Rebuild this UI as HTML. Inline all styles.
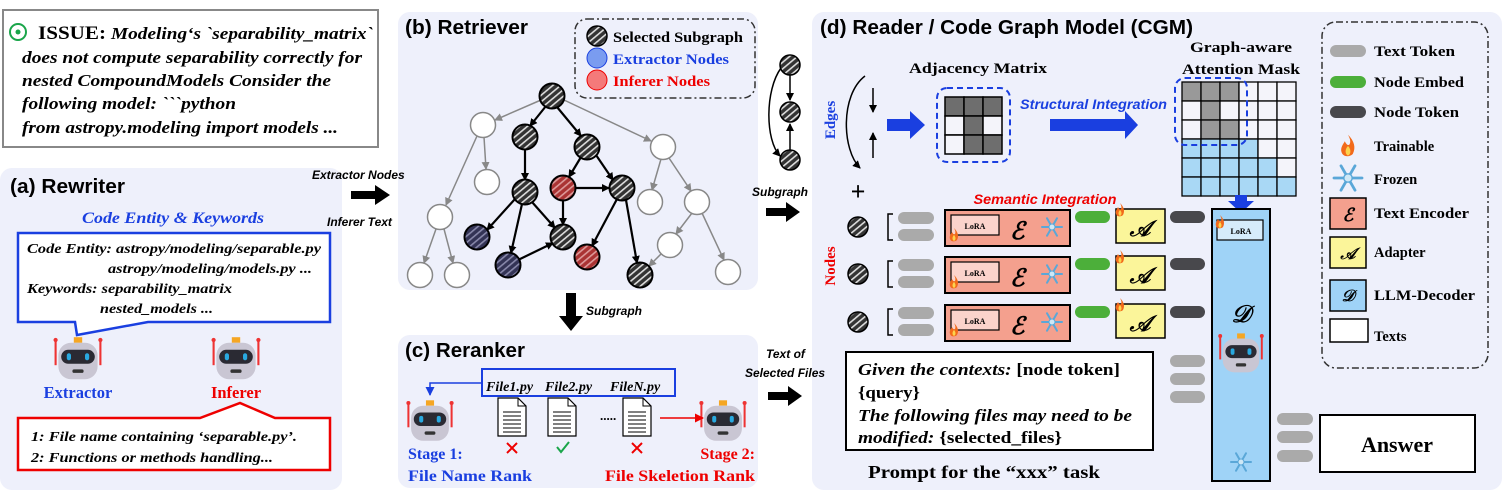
<!DOCTYPE html>
<html><head><meta charset="utf-8"><style>html,body{margin:0;padding:0;background:#fff}svg{display:block}</style></head><body>
<svg width="1505" height="495" viewBox="0 0 1505 495" xmlns="http://www.w3.org/2000/svg" font-family="Liberation Serif, serif">
<defs>
<pattern id="hat" width="5" height="5" patternUnits="userSpaceOnUse" patternTransform="rotate(-40)"><rect width="5" height="5" fill="#333"/><rect width="5" height="1.6" fill="#ddd"/></pattern>
<pattern id="hatR" width="5" height="5" patternUnits="userSpaceOnUse" patternTransform="rotate(-40)"><rect width="5" height="5" fill="#a33"/><rect width="5" height="1.6" fill="#d99"/></pattern>
<pattern id="hatB" width="5" height="5" patternUnits="userSpaceOnUse" patternTransform="rotate(-40)"><rect width="5" height="5" fill="#335"/><rect width="5" height="1.6" fill="#88a"/></pattern>
<marker id="ab" markerWidth="8" markerHeight="8" refX="7" refY="4" orient="auto" markerUnits="userSpaceOnUse"><path d="M0,0 L8,4 L0,8z" fill="#000"/></marker>
<marker id="ag" markerWidth="8" markerHeight="8" refX="7" refY="4" orient="auto" markerUnits="userSpaceOnUse"><path d="M0,0 L8,4 L0,8z" fill="#888"/></marker>
<marker id="ar" markerWidth="9" markerHeight="9" refX="8" refY="4.5" orient="auto" markerUnits="userSpaceOnUse"><path d="M0,0 L9,4.5 L0,9z" fill="#e00"/></marker>
<marker id="abl" markerWidth="9" markerHeight="9" refX="8" refY="4.5" orient="auto" markerUnits="userSpaceOnUse"><path d="M0,0 L9,4.5 L0,9z" fill="#1a3fe0"/></marker>
<g id="robot">
<rect x="-3" y="-22" width="6" height="4" fill="#f5a623"/>
<line x1="-16" y1="-20" x2="-16" y2="-2" stroke="#e33" stroke-width="1.5"/><line x1="16" y1="-20" x2="16" y2="-2" stroke="#e33" stroke-width="1.5"/>
<circle cx="-16" cy="-20" r="1.5" fill="#e33"/><circle cx="16" cy="-20" r="1.5" fill="#e33"/>
<rect x="-14" y="-18" width="28" height="26" rx="9" fill="#c9c6d3"/>
<rect x="-12" y="-13" width="24" height="10" rx="5" fill="#2a2a33"/>
<rect x="-8" y="-10.5" width="3" height="5" rx="1.5" fill="#29a9e0"/><rect x="5" y="-10.5" width="3" height="5" rx="1.5" fill="#29a9e0"/>
<rect x="-4" y="1" width="8" height="2.5" rx="1.2" fill="#333"/>
</g>
<g id="doc"><path d="M0,0 H20 L28,8 V38 H0z" fill="#fff" stroke="#000" stroke-width="1.2"/><path d="M20,0 V8 H28" fill="none" stroke="#000"/><g stroke="#000" stroke-width="1"><line x1="5" y1="14" x2="23" y2="14"/><line x1="5" y1="18" x2="23" y2="18"/><line x1="5" y1="22" x2="23" y2="22"/><line x1="5" y1="26" x2="23" y2="26"/><line x1="5" y1="30" x2="23" y2="30"/><line x1="5" y1="34" x2="23" y2="34"/></g></g>
<g id="snow" stroke="#5aa7d8" stroke-width="2" stroke-linecap="round"><line x1="-10" y1="0" x2="10" y2="0"/><line x1="-5" y1="-8.7" x2="5" y2="8.7"/><line x1="5" y1="-8.7" x2="-5" y2="8.7"/><circle r="3" fill="#cfe8f6" stroke-width="1"/></g>
<g id="fire"><path d="M0,-7 C4,-3 5,1 3,5 C1,7 -3,7 -4,4 C-5,1 -3,-1 -2,-3 C-1,-1 0,0 1,-1 C2,-3 1,-5 0,-7z" fill="#f26a1b"/><path d="M0,0 C2,2 2,5 0,6 C-2,5 -2,2 0,0z" fill="#fcd34d"/></g>
</defs>

<rect x="0" y="168" width="342" height="322" rx="12" fill="#eef0fb"/>
<rect x="398" y="12" width="360" height="278" rx="12" fill="#eef0fb"/>
<rect x="398" y="335" width="360" height="153" rx="12" fill="#eef0fb"/>
<rect x="812" y="12" width="690" height="478" rx="12" fill="#eef0fb"/>

<rect x="3" y="10" width="375" height="137" fill="#fff" stroke="#888" stroke-width="2"/>
<circle cx="18" cy="32" r="8" fill="none" stroke="#1aa54a" stroke-width="2"/><circle cx="18" cy="32" r="2.5" fill="#1aa54a"/>
<text x="38" y="39" font-size="19" font-weight="bold" textLength="68" lengthAdjust="spacingAndGlyphs">ISSUE:</text>
<g font-size="17" font-weight="bold" font-style="italic">
<text x="111" y="39" textLength="262" lengthAdjust="spacingAndGlyphs">Modeling&#8216;s &#96;separability_matrix&#96;</text>
<text x="22" y="63" textLength="340" lengthAdjust="spacingAndGlyphs">does not compute separability correctly for</text>
<text x="22" y="86" textLength="309" lengthAdjust="spacingAndGlyphs">nested CompoundModels Consider the</text>
<text x="22" y="109" textLength="214" lengthAdjust="spacingAndGlyphs">following model: &#96;&#96;&#96;python</text>
<text x="22" y="133" textLength="316" lengthAdjust="spacingAndGlyphs">from astropy.modeling import models ...</text>
</g>

<text x="10" y="193" font-family="Liberation Sans, sans-serif" font-size="20" font-weight="bold" textLength="115" lengthAdjust="spacingAndGlyphs">(a) Rewriter</text>
<text x="82" y="223" font-size="16" font-weight="bold" font-style="italic" fill="#1a3fe0" textLength="182" lengthAdjust="spacingAndGlyphs">Code Entity &amp; Keywords</text>
<path d="M18,233 H330 V322 H148 L77,335 L75,322 H18z" fill="#fff" stroke="#1a3fe0" stroke-width="2.5"/>
<g font-size="14" font-weight="bold" font-style="italic">
<text x="27" y="253" textLength="294" lengthAdjust="spacingAndGlyphs">Code Entity: astropy/modeling/separable.py</text>
<text x="108" y="273" textLength="204" lengthAdjust="spacingAndGlyphs">astropy/modeling/models.py ...</text>
<text x="27" y="293" textLength="205" lengthAdjust="spacingAndGlyphs">Keywords: separability_matrix</text>
<text x="100" y="313" textLength="113" lengthAdjust="spacingAndGlyphs">nested_models ...</text>
</g>
<g transform="translate(78,368) scale(1.4)"><use href="#robot"/></g>
<g transform="translate(236,368) scale(1.4)"><use href="#robot"/></g>
<text x="78" y="398" text-anchor="middle" font-size="16.5" font-weight="bold" fill="#1a3fe0">Extractor</text>
<text x="236" y="398" text-anchor="middle" font-size="16.5" font-weight="bold" fill="#e00">Inferer</text>
<path d="M18,418 H200 L240,403 L275,418 H330 V470 H18z" fill="#fff" stroke="#e00" stroke-width="2.5"/>
<g font-size="14" font-weight="bold" font-style="italic">
<text x="31" y="441" textLength="266" lengthAdjust="spacingAndGlyphs">1: File name containing &#8216;separable.py&#8217;.</text>
<text x="31" y="462" textLength="242" lengthAdjust="spacingAndGlyphs">2: Functions or methods handling...</text>
</g>

<g font-family="Liberation Sans, sans-serif" font-size="12" font-weight="bold" font-style="italic">
<text x="312" y="179">Extractor Nodes</text>
<text x="327" y="226">Inferer Text</text>
<text x="752" y="196">Subgraph</text>
<text x="586" y="315">Subgraph</text>
<text x="766" y="358">Text of</text>
<text x="745" y="377">Selected Files</text>
</g>
<path d="M351,191 H375 V185 L390,195 L375,205 V199 H351z" fill="#000"/>
<path d="M766,208 H786 V202 L800,212 L786,222 V216 H766z" fill="#000"/>
<path d="M768,392 H788 V386 L802,396 L788,406 V400 H768z" fill="#000"/>
<path d="M566,293 H576 V316 H583 L571,331 L559,316 H566z" fill="#000"/>

<text x="405" y="34" font-family="Liberation Sans, sans-serif" font-size="20" font-weight="bold" textLength="123" lengthAdjust="spacingAndGlyphs">(b) Retriever</text>
<rect x="575" y="19" width="180" height="79" rx="12" fill="none" stroke="#333" stroke-width="1.5" stroke-dasharray="7,3,2,3"/>
<circle cx="597" cy="36" r="10" fill="url(#hat)" stroke="#000" stroke-width="1.5"/>
<circle cx="597" cy="58" r="10" fill="#7a9cf0" stroke="#1a3fe0"/>
<circle cx="597" cy="80" r="10" fill="#f47a7a" stroke="#e00"/>
<g font-size="15" font-weight="bold"><text x="613" y="42" textLength="130" lengthAdjust="spacingAndGlyphs">Selected Subgraph</text><text x="613" y="64" fill="#1a3fe0" textLength="116" lengthAdjust="spacingAndGlyphs">Extractor Nodes</text><text x="613" y="86" fill="#e00" textLength="97" lengthAdjust="spacingAndGlyphs">Inferer Nodes</text></g>
<g stroke="#888" stroke-width="1.5" marker-end="url(#ag)">
<line x1="541" y1="100" x2="495" y2="120"/><line x1="564" y1="100" x2="651" y2="141"/>
<line x1="484" y1="137" x2="486" y2="169"/><line x1="477" y1="136" x2="446" y2="205"/>
<line x1="436" y1="229" x2="424" y2="263"/><line x1="444" y1="229" x2="453" y2="263"/>
<line x1="661" y1="159" x2="652" y2="190"/><line x1="669" y1="158" x2="691" y2="191"/>
<line x1="692" y1="213" x2="676" y2="234"/><line x1="702" y1="213" x2="724" y2="260"/>
<line x1="662" y1="253" x2="649" y2="266"/>
</g>
<g stroke="#000" stroke-width="2.2" marker-end="url(#ab)">
<line x1="546" y1="106" x2="530" y2="126"/><line x1="557" y1="107" x2="581" y2="136"/>
<line x1="525" y1="149" x2="525" y2="180"/><line x1="581" y1="157" x2="569" y2="177"/>
<line x1="596" y1="155" x2="613" y2="180"/><line x1="575" y1="188" x2="609" y2="188"/>
<line x1="563" y1="200" x2="563" y2="225"/><line x1="515" y1="199" x2="487" y2="230"/>
<line x1="522" y1="204" x2="511" y2="253"/><line x1="532" y1="202" x2="555" y2="228"/>
<line x1="518" y1="260" x2="553" y2="243"/><line x1="617" y1="199" x2="592" y2="246"/>
<line x1="626" y1="200" x2="637" y2="263"/>
</g>
<g stroke="#888" stroke-width="1.5" fill="#fff">
<circle cx="483" cy="125" r="12.5"/><circle cx="663" cy="147" r="12.5"/><circle cx="487" cy="182" r="12.5"/>
<circle cx="650" cy="202" r="12.5"/><circle cx="697" cy="202" r="12.5"/><circle cx="440" cy="217" r="12.5"/>
<circle cx="670" cy="245" r="12.5"/><circle cx="420" cy="275" r="12.5"/><circle cx="457" cy="275" r="12.5"/><circle cx="728" cy="272" r="12.5"/>
</g>
<g stroke="#000" stroke-width="2">
<circle cx="552" cy="96" r="12.5" fill="url(#hat)"/><circle cx="525" cy="137" r="12.5" fill="url(#hat)"/>
<circle cx="587" cy="147" r="12.5" fill="url(#hat)"/><circle cx="525" cy="192" r="12.5" fill="url(#hat)"/>
<circle cx="563" cy="188" r="12.5" fill="url(#hatR)"/><circle cx="622" cy="188" r="12.5" fill="url(#hat)"/>
<circle cx="477" cy="237" r="12.5" fill="url(#hatB)"/><circle cx="563" cy="237" r="12.5" fill="url(#hat)"/>
<circle cx="587" cy="257" r="12.5" fill="url(#hatR)"/><circle cx="508" cy="265" r="12.5" fill="url(#hatB)"/>
<circle cx="640" cy="275" r="12.5" fill="url(#hat)"/>
</g>
<g stroke="#000" stroke-width="1.5" fill="none">
<line x1="790" y1="75" x2="790" y2="100" marker-end="url(#ab)"/>
<line x1="790" y1="150" x2="790" y2="124" marker-end="url(#ab)"/>
<path d="M781,68 C765,90 765,140 780,156" marker-end="url(#ab)"/>
</g>
<circle cx="790" cy="65" r="10" fill="url(#hat)" stroke="#000" stroke-width="1.5"/>
<circle cx="790" cy="112" r="10" fill="url(#hat)" stroke="#000" stroke-width="1.5"/>
<circle cx="790" cy="160" r="10" fill="url(#hat)" stroke="#000" stroke-width="1.5"/>

<text x="405" y="357" font-family="Liberation Sans, sans-serif" font-size="20" font-weight="bold" textLength="120" lengthAdjust="spacingAndGlyphs">(c) Reranker</text>
<rect x="482" y="369" width="193" height="27" fill="none" stroke="#1a3fe0" stroke-width="2"/>
<g font-size="14" font-weight="bold" font-style="italic"><text x="486" y="391">File1.py</text><text x="545" y="391">File2.py</text><text x="610" y="391">FileN.py</text></g>
<polyline points="482,383 430,383 430,395" fill="none" stroke="#1a3fe0" stroke-width="1.5" marker-end="url(#abl)"/>
<g transform="translate(430,430) scale(1.35)"><use href="#robot"/></g>
<g transform="translate(723,430) scale(1.35)"><use href="#robot"/></g>
<use href="#doc" x="498" y="398"/><use href="#doc" x="548" y="398"/><use href="#doc" x="623" y="398"/>
<text x="600" y="420" font-size="13" font-weight="bold">.....</text>
<g stroke-width="2" fill="none"><path d="M507,443 L517,453 M517,443 L507,453" stroke="#e00"/><path d="M557,447 L561,452 L569,442" stroke="#1aa54a"/><path d="M632,443 L642,453 M642,443 L632,453" stroke="#e00"/></g>
<line x1="660" y1="418" x2="703" y2="418" stroke="#e00" stroke-width="1.5" marker-end="url(#ar)"/>
<g font-size="16" font-weight="bold"><text x="408" y="459" fill="#1a3fe0">Stage 1:</text><text x="408" y="481" fill="#1a3fe0" textLength="124" lengthAdjust="spacingAndGlyphs">File Name Rank</text>
<text x="755" y="459" fill="#e00" text-anchor="end">Stage 2:</text><text x="605" y="481" fill="#e00" textLength="150" lengthAdjust="spacingAndGlyphs">File Skeletion Rank</text></g>

<text x="820" y="34" font-family="Liberation Sans, sans-serif" font-size="20" font-weight="bold" textLength="373" lengthAdjust="spacingAndGlyphs">(d) Reader / Code Graph Model (CGM)</text>
<text x="978" y="73" text-anchor="middle" font-size="15" font-weight="bold" textLength="138" lengthAdjust="spacingAndGlyphs">Adjacency Matrix</text>
<text x="1241" y="52" text-anchor="middle" font-size="15" font-weight="bold" textLength="102" lengthAdjust="spacingAndGlyphs">Graph-aware</text>
<text x="1241" y="74" text-anchor="middle" font-size="15" font-weight="bold" textLength="118" lengthAdjust="spacingAndGlyphs">Attention Mask</text>
<text transform="translate(835,120) rotate(-90)" text-anchor="middle" font-size="15" font-weight="bold" fill="#1a3fe0">Edges</text>
<text transform="translate(835,266) rotate(-90)" text-anchor="middle" font-size="15" font-weight="bold" fill="#e00">Nodes</text>
<path d="M865,76 C840,95 842,150 860,168" fill="none" stroke="#000" stroke-width="1.5" marker-end="url(#ab)"/>
<line x1="873" y1="88" x2="873" y2="112" stroke="#000" stroke-width="1.5" marker-end="url(#ab)"/>
<line x1="873" y1="158" x2="873" y2="133" stroke="#000" stroke-width="1.5" marker-end="url(#ab)"/>
<path d="M887,119 H910 V111 L925,125 L910,139 V131 H887z" fill="#1a3fe0"/>
<rect x="937" y="88" width="73" height="74" rx="10" fill="none" stroke="#1a3fe0" stroke-width="2" stroke-dasharray="6,4"/>
<g stroke="#000" stroke-width="1.5">
<rect x="945" y="97" width="19" height="19" fill="#6e6e6e"/><rect x="964" y="97" width="19" height="19" fill="#6e6e6e"/><rect x="983" y="97" width="19" height="19" fill="#6e6e6e"/>
<rect x="945" y="116" width="19" height="19" fill="#f4f4fa"/><rect x="964" y="116" width="19" height="19" fill="#6e6e6e"/><rect x="983" y="116" width="19" height="19" fill="#f4f4fa"/>
<rect x="945" y="135" width="19" height="19" fill="#f4f4fa"/><rect x="964" y="135" width="19" height="19" fill="#6e6e6e"/><rect x="983" y="135" width="19" height="19" fill="#6e6e6e"/>
</g>
<text x="1020" y="109" font-family="Liberation Sans, sans-serif" font-size="13.5" font-weight="bold" font-style="italic" fill="#1a3fe0" textLength="147" lengthAdjust="spacingAndGlyphs">Structural Integration</text>
<path d="M1050,119 H1125 V111 L1138,125 L1125,139 V131 H1050z" fill="#1a3fe0"/>
<g stroke="#000" stroke-width="1.3">
<rect x="1182" y="82" width="19" height="19" fill="#999"/><rect x="1201" y="82" width="19" height="19" fill="#999"/><rect x="1220" y="82" width="19" height="19" fill="#999"/><rect x="1239" y="82" width="19" height="19" fill="#f4f4fa"/><rect x="1258" y="82" width="19" height="19" fill="#f4f4fa"/><rect x="1277" y="82" width="19" height="19" fill="#f4f4fa"/>
<rect x="1182" y="101" width="19" height="19" fill="#f4f4fa"/><rect x="1201" y="101" width="19" height="19" fill="#999"/><rect x="1220" y="101" width="19" height="19" fill="#f4f4fa"/><rect x="1239" y="101" width="19" height="19" fill="#f4f4fa"/><rect x="1258" y="101" width="19" height="19" fill="#f4f4fa"/><rect x="1277" y="101" width="19" height="19" fill="#f4f4fa"/>
<rect x="1182" y="120" width="19" height="19" fill="#f4f4fa"/><rect x="1201" y="120" width="19" height="19" fill="#999"/><rect x="1220" y="120" width="19" height="19" fill="#999"/><rect x="1239" y="120" width="19" height="19" fill="#f4f4fa"/><rect x="1258" y="120" width="19" height="19" fill="#f4f4fa"/><rect x="1277" y="120" width="19" height="19" fill="#f4f4fa"/>
<rect x="1182" y="139" width="19" height="19" fill="#a9d8f5"/><rect x="1201" y="139" width="19" height="19" fill="#a9d8f5"/><rect x="1220" y="139" width="19" height="19" fill="#a9d8f5"/><rect x="1239" y="139" width="19" height="19" fill="#a9d8f5"/><rect x="1258" y="139" width="19" height="19" fill="#f4f4fa"/><rect x="1277" y="139" width="19" height="19" fill="#f4f4fa"/>
<rect x="1182" y="158" width="19" height="19" fill="#a9d8f5"/><rect x="1201" y="158" width="19" height="19" fill="#a9d8f5"/><rect x="1220" y="158" width="19" height="19" fill="#a9d8f5"/><rect x="1239" y="158" width="19" height="19" fill="#a9d8f5"/><rect x="1258" y="158" width="19" height="19" fill="#a9d8f5"/><rect x="1277" y="158" width="19" height="19" fill="#f4f4fa"/>
<rect x="1182" y="177" width="19" height="19" fill="#a9d8f5"/><rect x="1201" y="177" width="19" height="19" fill="#a9d8f5"/><rect x="1220" y="177" width="19" height="19" fill="#a9d8f5"/><rect x="1239" y="177" width="19" height="19" fill="#a9d8f5"/><rect x="1258" y="177" width="19" height="19" fill="#a9d8f5"/><rect x="1277" y="177" width="19" height="19" fill="#a9d8f5"/>
</g>
<rect x="1175" y="78" width="72" height="67" rx="10" fill="none" stroke="#1a3fe0" stroke-width="2" stroke-dasharray="6,4"/>
<path d="M1235,195 H1247 V201 H1254 L1241,213 L1228,201 H1235z" fill="#1a3fe0"/>

<text x="858" y="200" text-anchor="middle" font-size="26" font-weight="bold">+</text>
<text x="1045" y="204" text-anchor="middle" font-family="Liberation Sans, sans-serif" font-size="14" font-weight="bold" font-style="italic" fill="#e00" textLength="143" lengthAdjust="spacingAndGlyphs">Semantic Integration</text>

<rect x="1212" y="209" width="58" height="272" fill="#9fd3f7" stroke="#000" stroke-width="2"/>
<rect x="1217" y="220" width="46" height="20" fill="#d6ecfb" stroke="#000" stroke-width="1.2"/>
<text x="1241" y="234" text-anchor="middle" font-size="8" font-weight="bold">LoRA</text>
<use href="#fire" x="1220" y="222"/>
<text x="1241" y="322" text-anchor="middle" font-size="24" font-weight="bold" font-style="italic" font-family="DejaVu Serif, serif">&#119967;</text>
<g transform="translate(1241,362) scale(1.3)"><use href="#robot"/></g>
<use href="#snow" x="1241" y="462"/>

<g id="row">
<circle cx="858" cy="227" r="10" fill="url(#hat)" stroke="#000" stroke-width="1.5"/>
<path d="M893,214 H888 V240 H893" fill="none" stroke="#000" stroke-width="1.5"/>
<rect x="898" y="212" width="36" height="12" rx="6" fill="#aaa"/><rect x="898" y="229" width="36" height="12" rx="6" fill="#aaa"/>
<rect x="945" y="210" width="125" height="36" fill="#f4a08e" stroke="#000" stroke-width="2"/>
<rect x="951" y="215" width="48" height="20" fill="#fbd3cb" stroke="#000" stroke-width="1.2"/>
<text x="975" y="229" text-anchor="middle" font-size="8" font-weight="bold">LoRA</text>
<use href="#fire" x="954" y="235"/>
<text x="1010" y="239" font-size="24" font-weight="bold" font-style="italic">&#8496;</text>
<use href="#snow" x="1052" y="227"/>
<rect x="1075" y="211" width="35" height="12" rx="6" fill="#4caf3a"/>
<rect x="1116" y="209" width="49" height="34" fill="#fbf59a" stroke="#000" stroke-width="1.5"/>
<use href="#fire" x="1120" y="210"/>
<text x="1140" y="236" text-anchor="middle" font-size="22" font-weight="bold" font-style="italic">&#119964;</text>
<rect x="1170" y="211" width="35" height="12" rx="6" fill="#48484c"/>
</g>
<use href="#row" y="47"/>
<use href="#row" y="95"/>

<rect x="846" y="352" width="307" height="98" fill="#fff" stroke="#000" stroke-width="2"/>
<g font-size="16.5" font-weight="bold">
<text x="858" y="375" textLength="262" lengthAdjust="spacingAndGlyphs"><tspan font-style="italic">Given the contexts:</tspan> [node token]</text>
<text x="858" y="398" textLength="62" lengthAdjust="spacingAndGlyphs">{query}</text>
<text x="858" y="421" font-style="italic" textLength="274" lengthAdjust="spacingAndGlyphs">The following files may need to be</text>
<text x="858" y="443" textLength="204" lengthAdjust="spacingAndGlyphs"><tspan font-style="italic">modified:</tspan> {selected_files}</text>
</g>
<text x="868" y="478" font-size="18" font-weight="bold" textLength="232" lengthAdjust="spacingAndGlyphs">Prompt for the &#8220;xxx&#8221; task</text>
<rect x="1170" y="355" width="35" height="12" rx="6" fill="#aaa"/><rect x="1170" y="373" width="35" height="12" rx="6" fill="#aaa"/><rect x="1170" y="391" width="35" height="12" rx="6" fill="#aaa"/>

<rect x="1322" y="22" width="166" height="346" rx="14" fill="none" stroke="#333" stroke-width="1.5" stroke-dasharray="7,3,2,3"/>
<rect x="1330" y="45" width="36" height="12" rx="6" fill="#aaa"/>
<rect x="1330" y="76" width="36" height="12" rx="6" fill="#4caf3a"/>
<rect x="1330" y="106" width="36" height="12" rx="6" fill="#48484c"/>
<g transform="translate(1348,146) scale(1.6)"><use href="#fire"/></g>
<g transform="translate(1348,178) scale(1.4)"><use href="#snow"/></g>
<rect x="1330" y="198" width="36" height="31" fill="#f4a08e" stroke="#000" stroke-width="1.5"/>
<text x="1348" y="221" text-anchor="middle" font-size="18" font-weight="bold" font-style="italic">&#8496;</text>
<rect x="1330" y="237" width="36" height="31" fill="#fbf59a" stroke="#000" stroke-width="1.5"/>
<text x="1348" y="259" text-anchor="middle" font-size="16" font-weight="bold" font-style="italic">&#119964;</text>
<rect x="1330" y="280" width="36" height="31" fill="#9fd3f7" stroke="#000" stroke-width="1.5"/>
<text x="1348" y="301" text-anchor="middle" font-size="16" font-weight="bold" font-style="italic" font-family="DejaVu Serif, serif">&#119967;</text>
<rect x="1330" y="319" width="38" height="23" fill="#fff" stroke="#000" stroke-width="1.5"/>
<g font-size="14.5" font-weight="bold">
<text x="1374" y="56" textLength="81" lengthAdjust="spacingAndGlyphs">Text Token</text><text x="1374" y="87" textLength="90" lengthAdjust="spacingAndGlyphs">Node Embed</text><text x="1374" y="117" textLength="85" lengthAdjust="spacingAndGlyphs">Node Token</text>
<text x="1374" y="151">Trainable</text><text x="1374" y="184">Frozen</text><text x="1374" y="218" textLength="95" lengthAdjust="spacingAndGlyphs">Text Encoder</text>
<text x="1374" y="257">Adapter</text><text x="1374" y="300" textLength="101" lengthAdjust="spacingAndGlyphs">LLM-Decoder</text><text x="1374" y="341">Texts</text>
</g>
<rect x="1277" y="413" width="36" height="12" rx="6" fill="#aaa"/><rect x="1277" y="431" width="36" height="12" rx="6" fill="#aaa"/><rect x="1277" y="450" width="36" height="12" rx="6" fill="#aaa"/>
<rect x="1320" y="415" width="155" height="57" fill="#fff" stroke="#000" stroke-width="2"/>
<text x="1397" y="452" text-anchor="middle" font-size="22" font-weight="bold">Answer</text>
</svg>
</body></html>
